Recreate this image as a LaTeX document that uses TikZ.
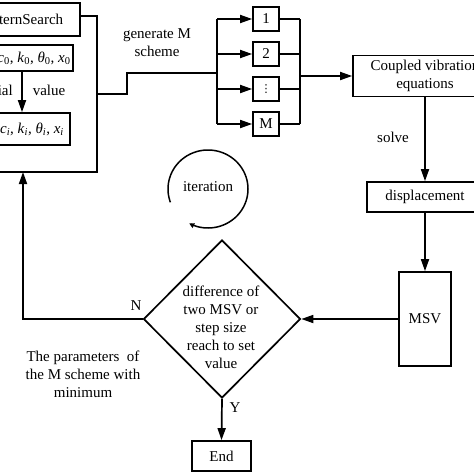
\documentclass[tikz,border=0pt]{standalone}
\usepackage{fontspec}
\setmainfont{Liberation Serif}
\newfontfamily\dvfont{DejaVu Sans}
\usetikzlibrary{arrows.meta,shapes.geometric,calc}
\begin{document}
\begin{tikzpicture}[x=1pt,y=-1pt,
  every node/.style={font=\fontsize{15}{18}\selectfont},
  ln/.style={line width=1.7pt},
  arr/.style={ln,-{Triangle[length=12pt,width=8pt]}},
  box/.style={draw,line width=1.7pt,inner sep=0pt,align=center},
  lbl/.style={inner sep=0pt,align=center}]
\useasboundingbox (0,0) rectangle (474,474);
\clip (0,0) rectangle (474,474);
\fill[white] (0,0) rectangle (474,474);
% left column
\node[box,minimum width=117pt,minimum height=33pt] (ps) at (21.5,19.5) {PatternSearch};
\node[box,minimum width=78pt,minimum height=26pt] (c0) at (34,58)
  {\textit{c}\textsubscript{0}, \textit{k}\textsubscript{0}, \textit{θ}\textsubscript{0}, \textit{x}\textsubscript{0}};
\node[box,minimum width=76pt,minimum height=32pt] (ci) at (32,129)
  {\textit{c}\textsubscript{\textit{i}}, \textit{k}\textsubscript{\textit{i}}, \textit{θ}\textsubscript{\textit{i}}, \textit{x}\textsubscript{\textit{i}}};
\coordinate (ax) at (22,0);
\draw[arr] (c0.south -| ax) -- (ci.north -| ax);
\node[lbl,anchor=east] (init) at (13,90) {Initial};
\node[lbl] (val) at (49,90) {value};
% frame
\coordinate (f1) at (97,16);
\coordinate (f2) at (97,172);
\coordinate (f3) at (-5,172);
\draw[ln] (ps.east |- f1) -- (f1) -- (f2) -- (f3);
\coordinate (fo) at (97,94);
\coordinate (k1) at (127,94);
\coordinate (k2) at (127,73);
\coordinate (bl1) at (217,19);
\coordinate (bl4) at (217,124);
\coordinate (bm) at (217,73);
\draw[ln] (fo) -- (k1) -- (k2) -- (bm);
\node[lbl] (gen) at (157,42.5) {generate M\\scheme};
% schemes
\node[box,minimum width=26pt,minimum height=24pt] (b1) at (266,19) {1};
\node[box,minimum width=26pt,minimum height=24pt] (b2) at (266,54) {2};
\node[box,minimum width=26pt,minimum height=24pt] (b3) at (266,89) {{\dvfont\fontsize{11}{12}\selectfont ⋮}};
\node[box,minimum width=26pt,minimum height=24pt] (b4) at (266,124) {M};
\draw[ln] (bl1) -- (bl4);
\foreach \b in {b1,b2,b3,b4} \draw[arr] (bl1 |- \b.west) -- (\b.west);
\coordinate (br1) at (300,19);
\coordinate (br4) at (300,124);
\coordinate (bo) at (300,76);
\draw[ln] (br1) -- (br4);
\foreach \b in {b1,b2,b3,b4} \draw[ln] (\b.east) -- (br1 |- \b.east);
% right column
\node[box,minimum width=144pt,minimum height=41pt] (cv) at (425,76) {Coupled vibration\\equations};
\draw[arr] (bo) -- (cv.west);
\node[box,minimum width=116pt,minimum height=30pt] (dp) at (425,197) {displacement};
\draw[arr] (cv.south) -- (dp.north);
\node[lbl] (solve) at (393,137) {solve};
\node[box,minimum width=52pt,minimum height=94pt] (msv) at (425,319) {MSV};
\draw[arr] (dp.south) -- (msv.north);
% decision
\node[draw,line width=1.7pt,diamond,inner sep=0pt,minimum width=157pt,minimum height=158pt] (dec) at (222,319) {};
\node[lbl] (dect) at (221,327) {difference of\\two MSV or\\step size\\reach to set\\value};
\draw[arr] (msv.west) -- (dec.east);
\node[box,minimum width=59pt,minimum height=30pt] (end) at (221.5,456) {End};
\draw[arr] (dec.south) -- (end.north);
\node[lbl] (Y) at (235,408) {Y};
\node[lbl] (N) at (136,306) {N};
\coordinate (lc) at (23,319);
\draw[arr] (dec.west) -- (lc) -- (lc |- f2);
\node[lbl] (par) at (83,374) {The parameters\ \ of\\the M scheme with\\minimum};
% iteration
\node[lbl] (it) at (208,187) {iteration};
\draw[line width=1.5pt,-{Triangle[open,length=5pt,width=5pt]},domain=160:478,samples=90,smooth]
  plot ({208+40*cos(\x)},{189+39*sin(\x)});
\end{tikzpicture}
\end{document}
